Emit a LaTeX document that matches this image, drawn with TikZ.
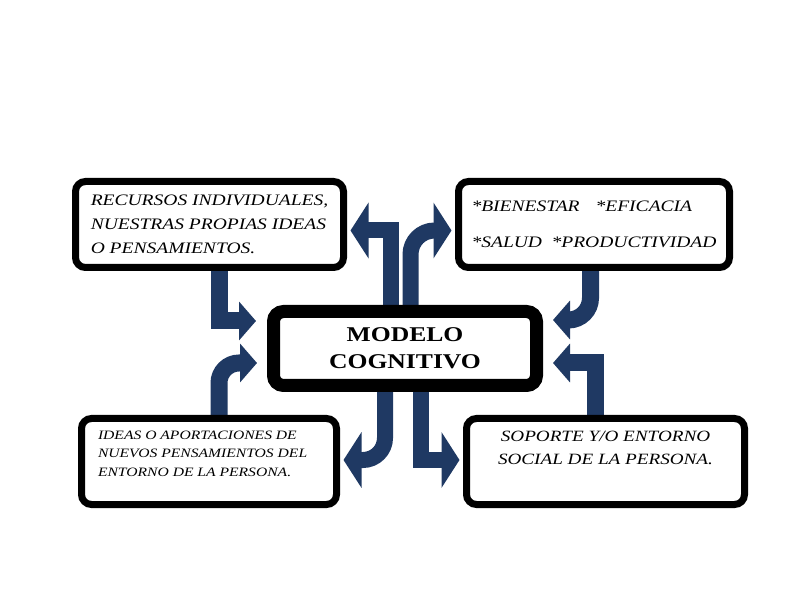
\documentclass[tikz,border=0pt]{standalone}
\usepackage{fontspec}
\setmainfont{Liberation Serif}
\newfontfamily\cursiva[FakeStretch=1.22]{Liberation Serif}
\newfontfamily\titulo[FakeStretch=1.22]{Liberation Serif}
\usetikzlibrary{arrows.meta,backgrounds}
\definecolor{azul}{RGB}{31,57,99}

\begin{document}
\begin{tikzpicture}[x=1pt, y=1pt,
        caja/.style = {draw, line width=7pt, rounded corners=10pt, fill=white, inner sep=0pt, minimum height=86pt},
        flecha/.style = {azul, line width=17pt, -{Triangle[length=17pt,width=38pt]}},
        flechag/.style = {azul, line width=16pt, -{Triangle[length=18pt,width=55pt]}}]
        \useasboundingbox (0,0) rectangle (800,600);

        \node[caja, line width=13pt, minimum width=263pt, minimum height=74pt, align=center,
              font=\titulo\bfseries\fontsize{21}{27}\selectfont] (modelo) at (405,251.5) {MODELO\\COGNITIVO};
        \node[caja, font=\cursiva\itshape\fontsize{16}{24}\selectfont, minimum width=268pt, align=left] (recursos) at (209.5,375.5)
            {RECURSOS INDIVIDUALES,\\NUESTRAS PROPIAS IDEAS\\O PENSAMIENTOS.};
        \node[caja, font=\cursiva\itshape\fontsize{16}{24}\selectfont, minimum width=271pt, align=left] (bienestar) at (594,375.5)
            {*BIENESTAR\hspace{1em}*EFICACIA\\[12pt]*SALUD\hspace{0.6em}*PRODUCTIVIDAD};
        \node[caja, font=\cursiva\itshape\fontsize{12.8}{18.5}\selectfont, minimum width=255pt] (ideas) at (209,138.5)
            {\parbox[c][61pt][t]{222pt}{\raggedright IDEAS O APORTACIONES DE\\NUEVOS PENSAMIENTOS DEL\\ENTORNO DE LA PERSONA.}};
        \node[caja, font=\cursiva\itshape\fontsize{15.7}{23}\selectfont, minimum width=278pt] (soporte) at (605.5,138.5)
            {\parbox[c][61pt][t]{270pt}{\centering SOPORTE Y/O ENTORNO\\SOCIAL DE LA PERSONA.}};

        \begin{scope}[on background layer]
            \draw[flecha] ([xshift=9.5pt]recursos.south) |- ([xshift=-11pt,yshift=27.5pt]modelo.west);
            \draw[flecha, rounded corners=20pt] ([xshift=10pt]ideas.north) |- ([xshift=-10pt,yshift=-14.5pt]modelo.west);
            \draw[flechag] ([xshift=-14pt]modelo.north) |- ([xshift=3.5pt,yshift=-6pt]recursos.east);
            \draw[flechag, rounded corners=24pt] ([xshift=5.5pt]modelo.north) |- ([xshift=-3.5pt,yshift=-6pt]bienestar.west);
            \draw[flecha, rounded corners=22pt] ([xshift=-3.5pt]bienestar.south) |- ([xshift=10pt,yshift=28.5pt]modelo.east);
            \draw[flecha] ([xshift=-10.5pt]soporte.north) |- ([xshift=10pt,yshift=-14.5pt]modelo.east);
            \draw[flechag, rounded corners=22pt] ([xshift=-20pt]modelo.south) |- ([xshift=3.5pt,yshift=1.5pt]ideas.east);
            \draw[flechag] ([xshift=16pt]modelo.south) |- ([xshift=-3.5pt,yshift=1.5pt]soporte.west);
        \end{scope}
    \end{tikzpicture}
\end{document}
